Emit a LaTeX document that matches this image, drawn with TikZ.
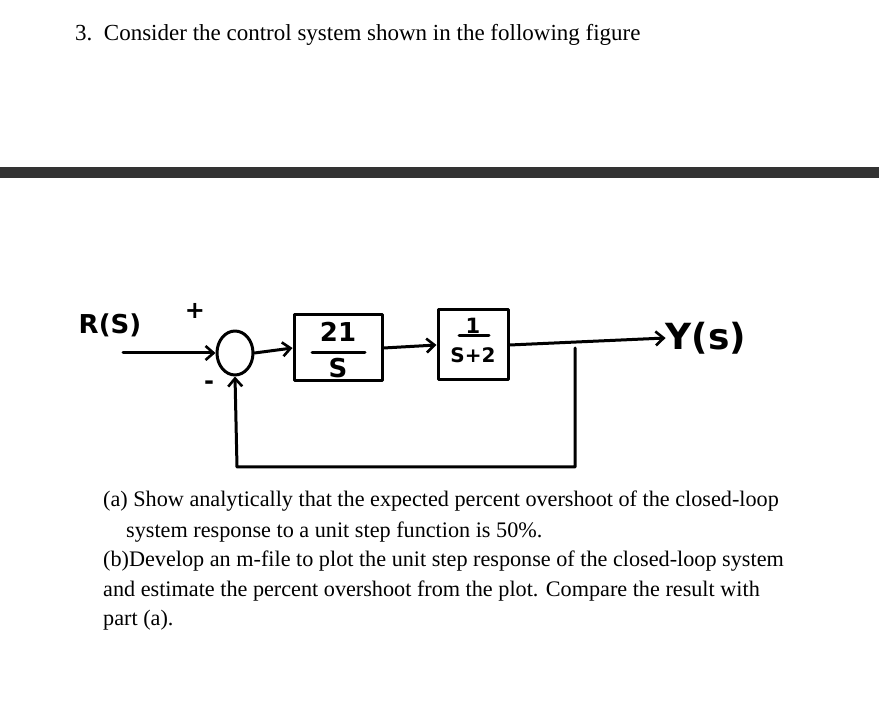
\documentclass[tikz,border=0pt]{standalone}
\usepackage{fontspec}
\setmainfont{Liberation Serif}
\newfontfamily\hand{DejaVu Sans}[BoldFont={DejaVu Sans Bold}]
\usetikzlibrary{arrows.meta,shapes.geometric}
\begin{document}
\begin{tikzpicture}[x=1pt,y=-1pt,
  txt/.style={anchor=base west,inner sep=0pt,font=\fontsize{22.2}{26}\selectfont},
  hw/.style={line width=3pt,line cap=round,line join=round},
  arr/.style={hw,-{Straight Barb[length=8pt,width=14pt,line width=2.6pt]}},
  hlab/.style={inner sep=0pt,font=\hand\bfseries\fontsize{26}{30}\selectfont},
  blk/.style={hw,draw,minimum width=88pt,minimum height=66pt,inner sep=0pt}]
\useasboundingbox (0,0) rectangle (879,711);
\node[txt,font=\fontsize{23}{27}\selectfont] (title) at (75,41) {3.\ \ Consider the control system shown in the following figure};
\fill[black!80] (0,167) rectangle (879,178);
% diagram
\node[hlab] (R) at (110,325) {R(S)};
\node[hlab,font=\hand\bfseries\fontsize{24}{28}\selectfont] (plus) at (195,311) {+};
\node[hlab,font=\hand\bfseries\fontsize{24}{28}\selectfont] (minus) at (209,385) {-};
\coordinate (in) at (123,353);
\node[hw,draw,ellipse,minimum width=36pt,minimum height=44pt,inner sep=0pt] (sum) at (235,353) {};
\node[blk] (b1) at (338,348) {};
\node[hlab] (n1) at (338,332) {21};
\draw[hw] (312,353) -- (365,353);
\node[hlab] (d1) at (338,368) {S};
\node[blk,minimum width=70pt,minimum height=70pt] (b2) at (473,345) {};
\node[hlab,font=\hand\bfseries\fontsize{21}{24}\selectfont] (n2) at (473,326) {1};
\draw[hw] (459,336) -- (489,336);
\node[hlab,font=\hand\bfseries\fontsize{20}{24}\selectfont] (d2) at (473,355) {S+2};
\node[hlab,font=\hand\bfseries\fontsize{36}{40}\selectfont] (Y) at (706,338) {Y(s)};
\coordinate (br) at (575,348);
\coordinate (fb1) at (575,467);
\coordinate (fb2) at (237,467);
\draw[arr] (in) -- (sum.west);
\draw[arr] (sum.east) -- (b1.west);
\draw[arr] (b1.east) -- (b2.west);
\draw[arr] (b2.east) -- (Y.west);
\draw[arr] (br) -- (fb1) -- (fb2) -- (sum.south);
% questions
\node[txt] (qa1) at (103,507) {(a) Show analytically that the expected percent overshoot of the closed-loop};
\node[txt] (qa2) at (126,537) {system response to a unit step function is 50\%.};
\node[txt] (qb1) at (103,566) {(b)Develop an m-file to plot the unit step response of the closed-loop system};
\node[txt] (qb2) at (103,596) {and estimate the percent overshoot from the plot. Compare the result with};
\node[txt] (qb3) at (103,625) {part (a).};
\end{tikzpicture}
\end{document}
